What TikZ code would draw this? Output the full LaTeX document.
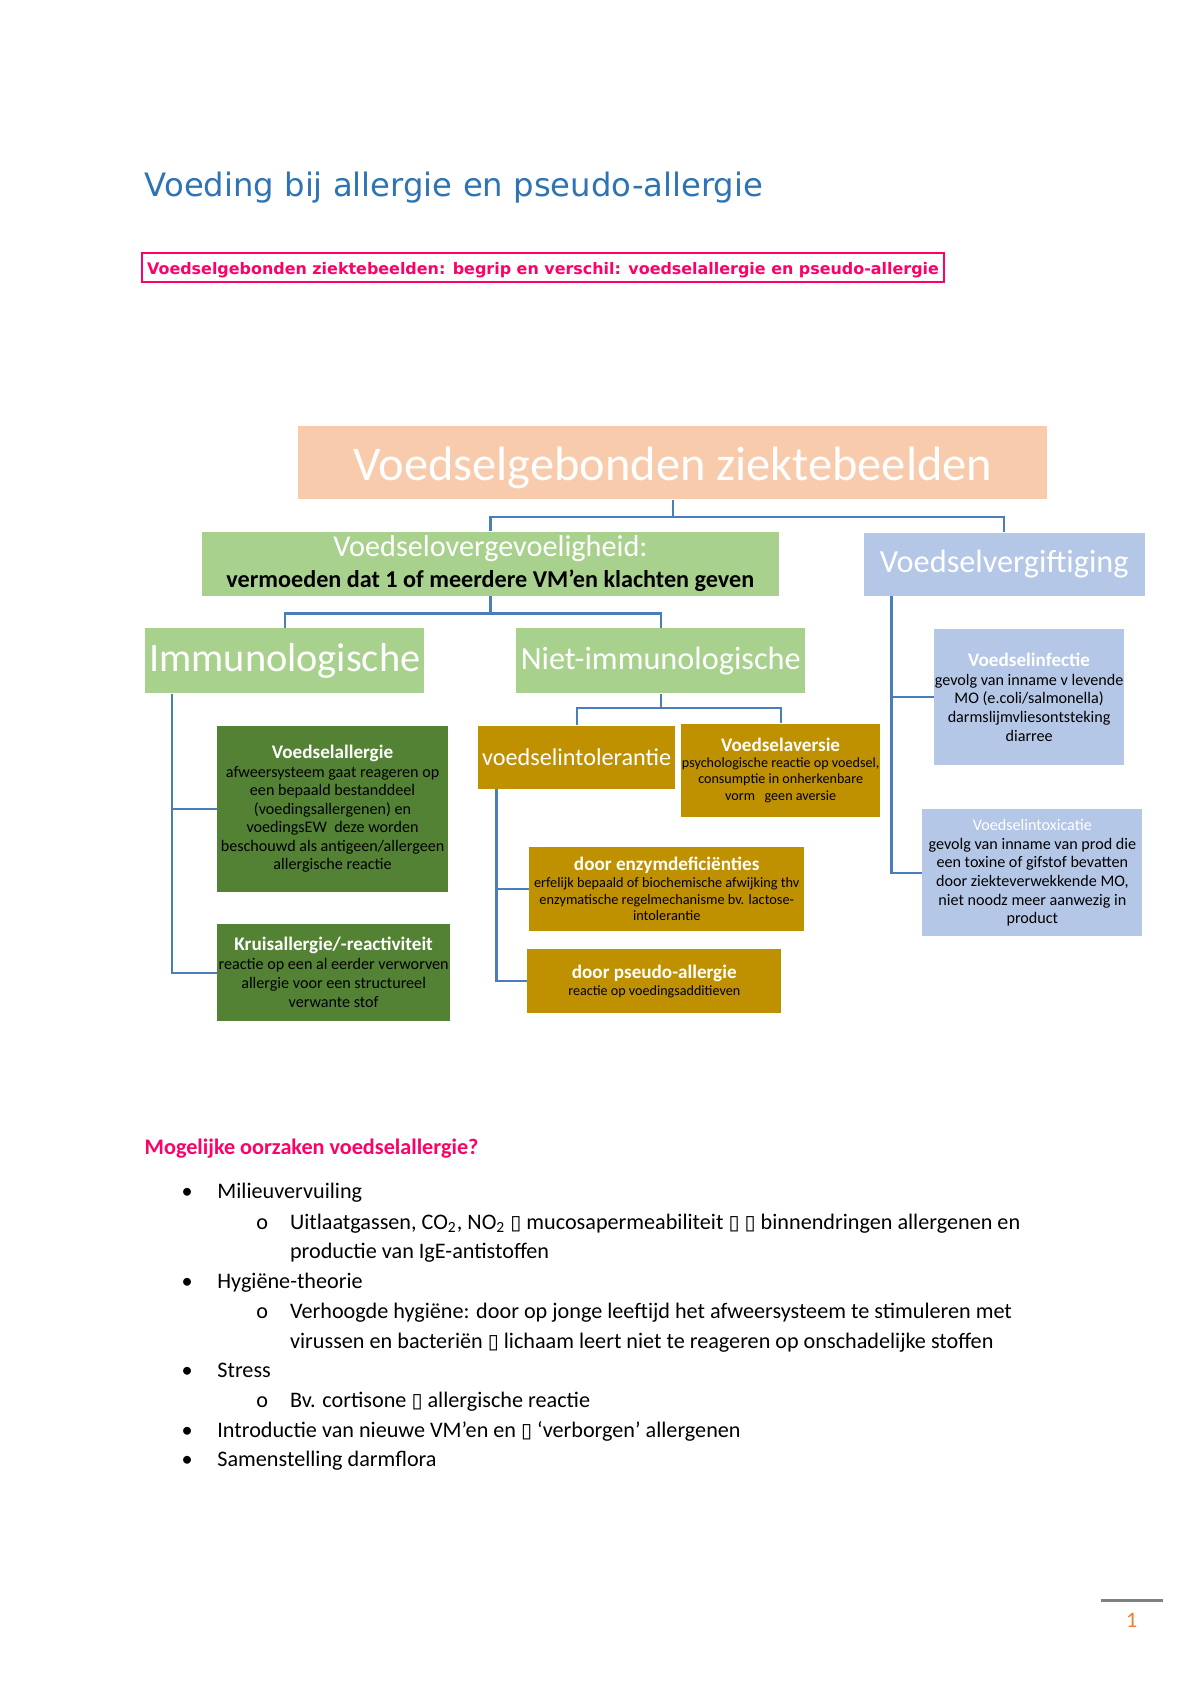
\documentclass[tikz,border=0pt]{standalone}
\usepackage{fontspec}
\setmainfont{Carlito}
\newfontfamily\dejavu{DejaVu Sans}
\newcommand\fsz[2]{\fontsize{#1}{#2}\selectfont}
\newcommand\bx{{\dejavu\fsz{10}{11}▯}}
\definecolor{peach}{HTML}{F8CBAD}
\definecolor{lgroen}{HTML}{A9D18E}
\definecolor{lila}{HTML}{B4C7E7}
\definecolor{dgroen}{HTML}{548235}
\definecolor{goud}{HTML}{BF9000}
\definecolor{lijn}{HTML}{4A7EBB}
\definecolor{titelblauw}{HTML}{2E74B5}
\definecolor{roze}{HTML}{FF0066}
\definecolor{oranje}{HTML}{ED7D31}
\begin{document}
\begin{tikzpicture}[x=0.538pt,y=-0.538pt,
  box/.style n args={3}{fill=#1,minimum width=#2*0.538pt,minimum height=#3*0.538pt,inner sep=0pt,align=center},
  tak/.style={draw=lijn,line width=1.1pt},
  txt/.style={anchor=base west,inner sep=0pt,font=\fsz{11}{13}}]
\fill[white] (0,0) rectangle (1106,1565);
\useasboundingbox (0,0) rectangle (1106,1565);

\node[anchor=base west,inner sep=0pt,text=titelblauw,font=\dejavu\fsz{16}{19}] (titel) at (133,181) {Voeding bij allergie en pseudo-allergie};
\node[draw=roze,line width=1pt,text=roze,minimum width=739*0.538pt,minimum height=27*0.538pt,inner sep=0pt,text height=7pt,text depth=0.5pt,font=\dejavu\bfseries\fsz{7.9}{9}] (kop) at (500.5,246.5) {Voedselgebonden ziektebeelden: begrip en verschil: voedselallergie en pseudo-allergie};

\node[box={peach}{690}{67},text=white,text height=22pt,text depth=4.5pt,font=\fsz{24}{30}] (zb) at (620,426.5) {Voedselgebonden ziektebeelden};
\node[box={lgroen}{532}{59}] (ovg) at (452,519.5) {\textcolor{white}{\fsz{15}{17}Voedselovergevoeligheid:}\\[3pt]\fsz{12}{14}\bfseries vermoeden dat 1 of meerdere VM'en klachten geven};
\node[box={lila}{259}{58},text=white,font=\fsz{16}{20}] (vg) at (925.5,520) {Voedselvergiftiging};
\node[box={lgroen}{257}{60},text=white,font=\fsz{20}{24}] (imm) at (262.5,609) {Immunologische};
\node[box={lgroen}{266}{60},text=white,font=\fsz{16}{19}] (niet) at (609,609) {Niet-immunologische};
\node[box={dgroen}{213}{153},font=\fsz{8}{9.2}] (va) at (306.5,745.5) {\textcolor{white}{\fsz{9.5}{12}\bfseries Voedselallergie}\\afweersysteem gaat reageren op\\een bepaald bestanddeel\\(voedingsallergenen) en\\voedingsEW~~deze worden\\beschouwd als antigeen/allergeen\\allergische reactie};
\node[box={dgroen}{215}{89},font=\fsz{8}{9.4}] (kr) at (307.5,896.5) {\textcolor{white}{\fsz{9.5}{11}\bfseries Kruisallergie/-reactiviteit}\\reactie op een al eerder verworven\\allergie voor een structureel\\verwante stof};
\node[box={goud}{181}{58},text=white,font=\fsz{12}{15}] (vi) at (531.5,698) {voedselintolerantie};
\node[box={goud}{183}{86},font=\fsz{7}{8}] (vav) at (719.5,710) {\textcolor{white}{\fsz{9.5}{12}\bfseries Voedselaversie}\\psychologische reactie op voedsel,\\consumptie in onherkenbare\\vorm~~~geen aversie};
\node[box={goud}{253}{77},font=\fsz{7.1}{8.3}] (enz) at (614.5,819.5) {\textcolor{white}{\fsz{9.5}{12}\bfseries door enzymdeficiënties}\\erfelijk bepaald of biochemische afwijking thv\\enzymatische regelmechanisme bv. lactose-\\intolerantie};
\node[box={goud}{234}{59},font=\fsz{7}{8.5}] (ps) at (603,904.5) {\textcolor{white}{\fsz{9.5}{12}\bfseries door pseudo-allergie}\\reactie op voedingsadditieven};
\node[box={lila}{175}{125},font=\fsz{8}{9.3}] (vinf) at (948.5,642.5) {\textcolor{white}{\fsz{9.5}{12}\bfseries Voedselinfectie}\\gevolg van inname v levende\\MO (e.coli/salmonella)\\darmslijmvliesontsteking\\diarree};
\node[box={lila}{203}{117},font=\fsz{8}{9.2}] (vtox) at (951.5,804.5) {\textcolor{white}{\fsz{8}{9}Voedselintoxicatie}\\gevolg van inname van prod die\\een toxine of gifstof bevatten\\door ziekteverwekkende MO,\\niet noodz meer aanwezig in\\product};

\draw[tak] (zb.south) -- ++(0,16) coordinate (b1) -| (ovg.north) (b1) -| (vg.north);
\draw[tak] (ovg.south) -- ++(0,16) coordinate (b2) -| (imm.north) (b2) -| (niet.north);
\draw[tak] (niet.south) -- ++(0,13) coordinate (b3) -| (vi.north) (b3) -| (vav.north);
\coordinate (ia) at ([xshift=13.5pt]imm.south west);
\coordinate (via) at ([xshift=9.1pt]vi.south west);
\coordinate (vga) at ([xshift=14pt]vg.south west);
\draw[tak] (ia) |- (va) (ia) |- (kr);
\draw[tak] (via) |- (enz) (via) |- (ps);
\draw[tak] (vga) |- (vinf) (vga) |- (vtox);

\node[txt,text=roze,font=\bfseries\fsz{11}{13}] (oorz) at (133,1064) {Mogelijke oorzaken voedselallergie?};
\foreach \x/\y/\t [count=\i] in {
  200/1105/{Milieuvervuiling},
  267/1133/{Uitlaatgassen, CO\textsubscript{2}, NO\textsubscript{2} \bx\ mucosapermeabiliteit \bx\ \bx\ binnendringen allergenen en},
  267/1160/{productie van IgE-antistoffen},
  200/1188/{Hygiëne-theorie},
  267/1215/{Verhoogde hygiëne: door op jonge leeftijd het afweersysteem te stimuleren met},
  267/1243/{virussen en bacteriën \bx\ lichaam leert niet te reageren op onschadelijke stoffen},
  200/1270/{Stress},
  267/1297/{Bv. cortisone \bx\ allergische reactie},
  200/1325/{Introductie van nieuwe VM’en en \bx\ ‘verborgen’ allergenen},
  200/1352/{Samenstelling darmflora}}
  \node[txt] (r\i) at (\x,\y) {\t};
\foreach \y [count=\i] in {1105,1188,1270,1325,1352}
  \node[txt] (p\i) at (167,\y) {\textbullet};
\foreach \y [count=\i] in {1133,1215,1297}
  \node[txt] (o\i) at (236,\y) {o};

\draw[gray,line width=1.2pt] (1015,1475) -- (1072,1475);
\node[text=oranje,font=\fsz{11}{13}] (pag) at (1043,1493) {1};
\end{tikzpicture}
\end{document}
